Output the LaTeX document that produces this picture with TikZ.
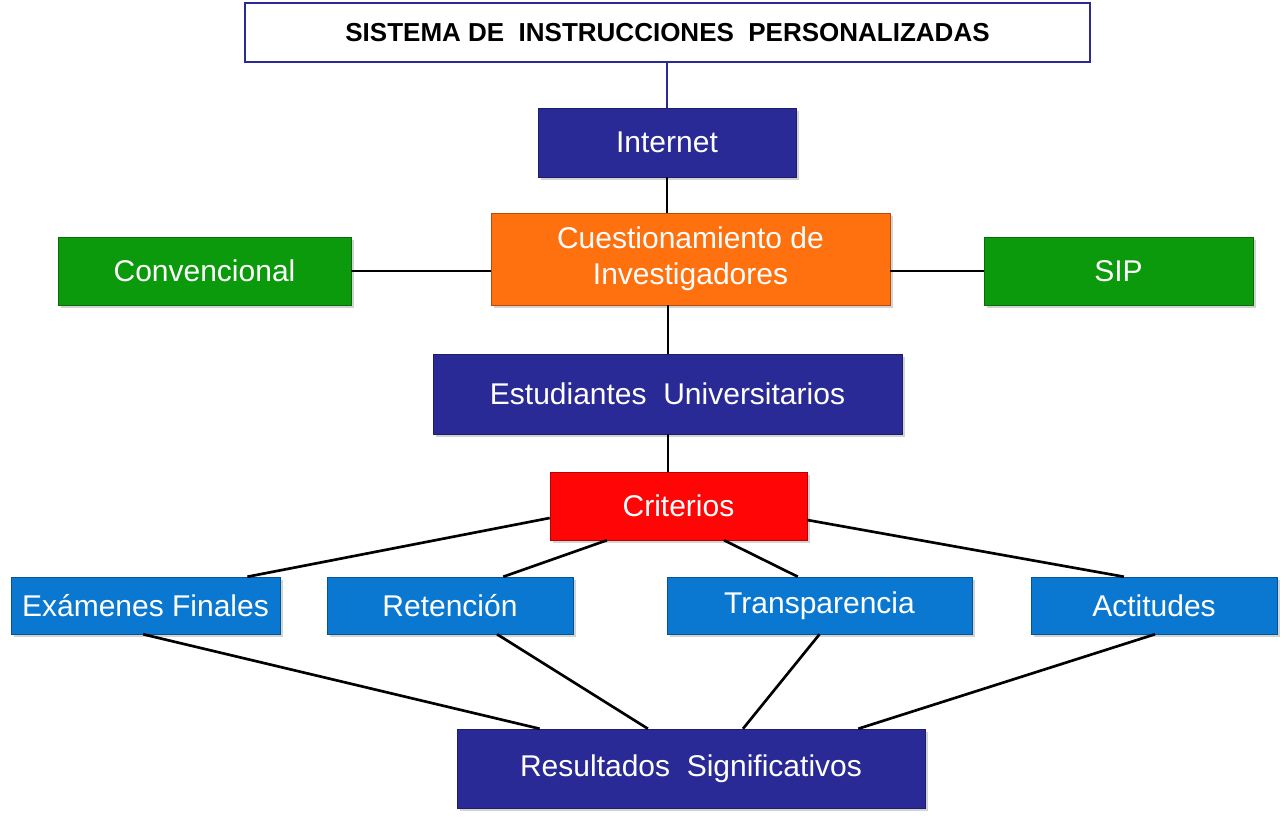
\documentclass[tikz,border=0pt]{standalone}
\usepackage{fontspec}
\setmainfont{Liberation Sans}
\usetikzlibrary{calc,shadows}
\definecolor{navy}{HTML}{2A2A96}
\definecolor{navyb}{HTML}{1C1C70}
\definecolor{orng}{HTML}{FF700F}
\definecolor{grn}{HTML}{0B9A0B}
\definecolor{redb}{HTML}{FF0505}
\definecolor{blu}{HTML}{0A78D0}
\begin{document}
\begin{tikzpicture}[x=0.75pt,y=-0.75pt,
  box/.style={draw=#1!70!black,fill=#1,text=white,inner sep=0pt,align=center,font=\fontsize{22.5}{27}\selectfont,drop shadow={opacity=0.35,shadow xshift=2pt,shadow yshift=-2pt}},
  ln/.style={line width=2pt,black}]
\useasboundingbox (0,0) rectangle (1286,823);
\node[draw=navy,line width=1.5pt,fill=white,minimum width=845*0.75pt,minimum height=59*0.75pt,font=\bfseries\fontsize{19.5}{23}\selectfont] (t) at (667.5,32.5) {SISTEMA DE\ \ INSTRUCCIONES\ \ PERSONALIZADAS};
\node[box=navy,minimum width=258*0.75pt,minimum height=69*0.75pt] (i) at (667,142.5) {Internet};
\node[box=orng,minimum width=399*0.75pt,minimum height=92*0.75pt] (c) at (690.5,259) {Cuestionamiento de\\Investigadores};
\node[box=grn,minimum width=293*0.75pt,minimum height=68*0.75pt] (cv) at (204.5,271) {Convencional};
\node[box=grn,minimum width=269*0.75pt,minimum height=68*0.75pt] (s) at (1118.5,271) {SIP};
\node[box=navy,minimum width=469*0.75pt,minimum height=80*0.75pt] (e) at (667.5,394) {Estudiantes\ \ Universitarios};
\node[box=redb,minimum width=257*0.75pt,minimum height=68*0.75pt] (cr) at (678.5,506) {Criterios};
\begin{scope}[every node/.append style={minimum height=57*0.75pt,font=\fontsize{18}{22}\selectfont}]
\node[box=blu,minimum width=269*0.75pt] (b1) at (145.5,605.5) {Exámenes Finales};
\node[box=blu,minimum width=246*0.75pt] (b2) at (450,605.5) {Retención};
\node[box=blu,minimum width=305*0.75pt] (b3) at (819.5,605.5) {Transparencia};
\node[box=blu,minimum width=246*0.75pt] (b4) at (1154,605.5) {Actitudes};
\end{scope}
\node[box=navy,minimum width=468*0.75pt,minimum height=79*0.75pt] (r) at (691,768.5) {Resultados\ \ Significativos};
\begin{scope}[on background layer/.style={}]
\draw[navy,line width=2pt] (t.south -| i.north) -- (i.north);
\draw[ln] (i.south) -- (i.south |- c.north);
\draw[ln] (cv.east) -- (cv.east -| c.west);
\draw[ln] (c.east |- s.west) -- (s.west);
\draw[ln] (e.north -| 668,0) -- (668,305);
\draw[ln] (668,434) -- (668,472);
\draw[ln] (cr.west |- 0,518) -- ($(b1.north west)!0.878!(b1.north east)$);
\draw[ln] ($(cr.south west)!0.222!(cr.south east)$) -- ($(b2.north west)!0.716!(b2.north east)$);
\draw[ln] ($(cr.south west)!0.677!(cr.south east)$) -- ($(b3.north west)!0.429!(b3.north east)$);
\draw[ln] (cr.east |- 0,520) -- ($(b4.north west)!0.378!(b4.north east)$);
\draw[ln] ($(b1.south west)!0.491!(b1.south east)$) -- ($(r.north west)!0.177!(r.north east)$);
\draw[ln] ($(b2.south west)!0.691!(b2.south east)$) -- ($(r.north west)!0.408!(r.north east)$);
\draw[ln] ($(b3.south west)!0.5!(b3.south east)$) -- ($(r.north west)!0.611!(r.north east)$);
\draw[ln] ($(b4.south west)!0.504!(b4.south east)$) -- ($(r.north west)!0.857!(r.north east)$);
\end{scope}
\end{tikzpicture}
\end{document}
